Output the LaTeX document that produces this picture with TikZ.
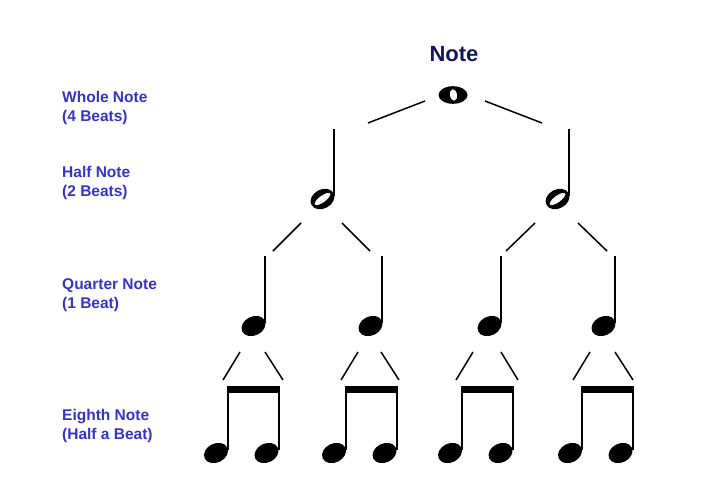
\documentclass[tikz,border=0pt]{standalone}
\usepackage{fontspec}
\setmainfont{Liberation Sans}
\definecolor{lblblue}{RGB}{52,52,200}
\definecolor{ttlnavy}{RGB}{22,22,92}
\begin{document}
\begin{tikzpicture}[x=1pt,y=-1pt,
  conn/.style={line width=1.5pt},
  stemline/.style={line width=2pt},
  lbltext/.style={font=\fontsize{15.5}{19}\selectfont\bfseries, text=lblblue, anchor=base west, inner sep=0pt},
  wholenote/.pic={\fill[even odd rule] (0,0) ellipse[x radius=14.5, y radius=8.8] (0.5,0) ellipse[x radius=3.6, y radius=6, rotate=10];},
  halfnote/.pic={\fill[even odd rule] (0,0) ellipse[x radius=12.5, y radius=9.5, rotate=28] (0,0) ellipse[x radius=9.5, y radius=3.4, rotate=36];
                 \draw[stemline] (11.5,-3) -- (11.5,-70);},
  quarternote/.pic={\fill (0,0) ellipse[x radius=12.5, y radius=9.5, rotate=26];
                    \draw[stemline] (11.5,-3) -- (11.5,-70);},
  eighthpair/.pic={\fill (0,0) ellipse[x radius=12.5, y radius=9.5, rotate=26];
                   \fill (50.5,0) ellipse[x radius=12.5, y radius=9.5, rotate=26];
                   \draw[stemline] (12,-3) -- (12,-66);
                   \draw[stemline] (62.5,-3) -- (62.5,-66);
                   \fill (11,-67) rectangle (63.5,-60);}
]
\useasboundingbox (0,0) rectangle (720,498);

% title and labels
\node[font=\fontsize{22}{25}\selectfont\bfseries, text=ttlnavy, anchor=base, inner sep=0pt] (title) at (454,61) {Note};
\node[lbltext] (whole1) at (62,102) {Whole Note};
\node[lbltext] (whole2) at (62,121) {(4 Beats)};
\node[lbltext] (half1) at (62,177) {Half Note};
\node[lbltext] (half2) at (62,196) {(2 Beats)};
\node[lbltext] (quarter1) at (62,289) {Quarter Note};
\node[lbltext] (quarter2) at (62,308) {(1 Beat)};
\node[lbltext] (eighth1) at (62,420) {Eighth Note};
\node[lbltext] (eighth2) at (62,439) {(Half a Beat)};

% notes
\pic at (453,95) {wholenote};
\pic at (322.5,199) {halfnote};
\pic at (557.5,199) {halfnote};
\pic at (253.5,326) {quarternote};
\pic at (370.5,326) {quarternote};
\pic at (489.5,326) {quarternote};
\pic at (603.5,326) {quarternote};
\pic at (216,453) {eighthpair};
\pic at (334,453) {eighthpair};
\pic at (450,453) {eighthpair};
\pic at (570,453) {eighthpair};

% connector end points
\coordinate (wla) at (425,101); \coordinate (wlb) at (368,123);
\coordinate (wra) at (485,101); \coordinate (wrb) at (542,123);
\coordinate (h1la) at (301,223); \coordinate (h1lb) at (273,251);
\coordinate (h1ra) at (342,223); \coordinate (h1rb) at (370,251);
\coordinate (h2la) at (535,223); \coordinate (h2lb) at (506,251);
\coordinate (h2ra) at (578,223); \coordinate (h2rb) at (607,251);
\coordinate (q1la) at (240,352); \coordinate (q1lb) at (223,380);
\coordinate (q1ra) at (265,352); \coordinate (q1rb) at (283,380);
\coordinate (q2la) at (358,352); \coordinate (q2lb) at (341,380);
\coordinate (q2ra) at (381,352); \coordinate (q2rb) at (399,380);
\coordinate (q3la) at (473,352); \coordinate (q3lb) at (456,380);
\coordinate (q3ra) at (501,352); \coordinate (q3rb) at (518,380);
\coordinate (q4la) at (590,352); \coordinate (q4lb) at (573,380);
\coordinate (q4ra) at (615,352); \coordinate (q4rb) at (633,380);

\foreach \p in {wl,wr,h1l,h1r,h2l,h2r,q1l,q1r,q2l,q2r,q3l,q3r,q4l,q4r}
  \draw[conn] (\p a) -- (\p b);
\end{tikzpicture}
\end{document}
